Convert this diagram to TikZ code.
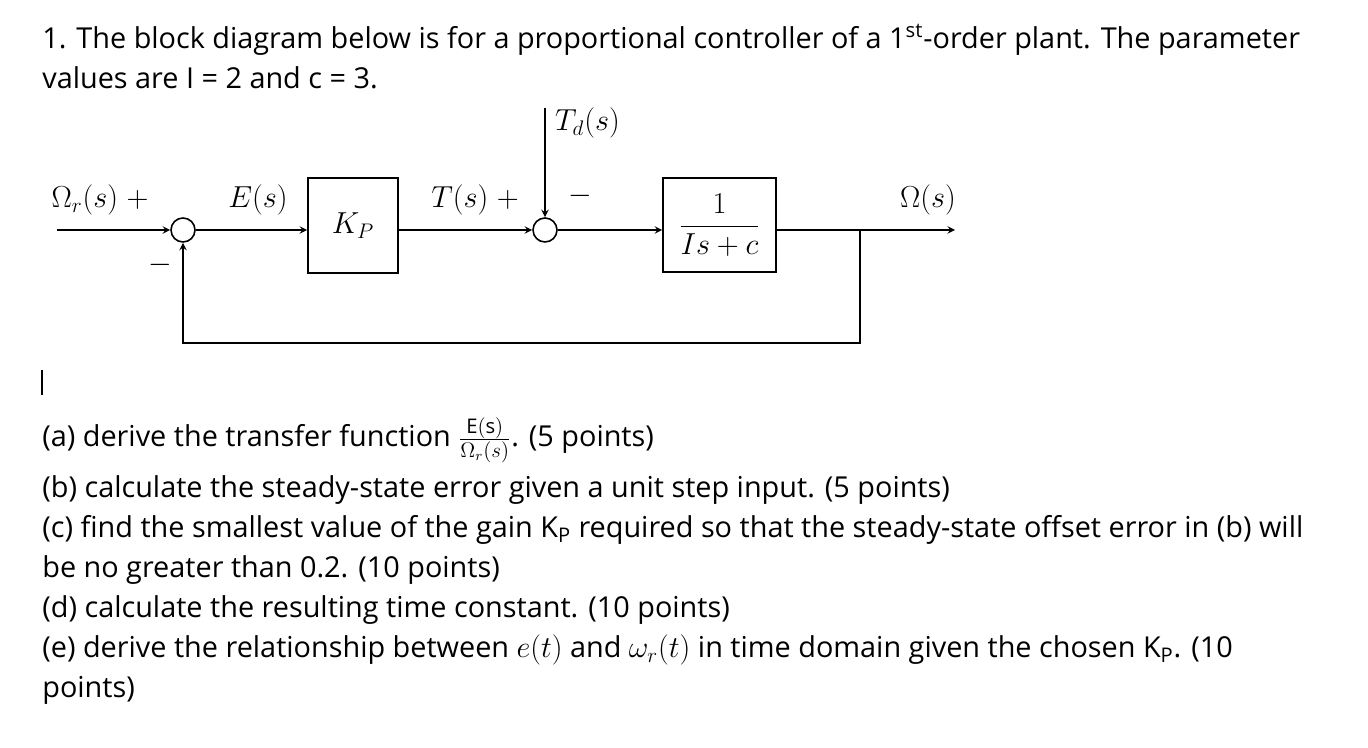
\documentclass[tikz,border=0pt]{standalone}
\usepackage{fontspec}
\setmainfont{Open Sans}
\usepackage{tikz}
\usetikzlibrary{positioning}

\begin{document}
\begin{tikzpicture}[
	txt/.style={anchor=base west, inner sep=0pt, font=\fontsize{16.4}{20}\selectfont},
	lbl/.style={inner sep=1pt, font=\fontsize{16.5}{19}\selectfont},
	block/.style={draw, line width=0.9pt},
	sumnode/.style={draw, circle, line width=0.9pt, minimum size=0.48cm, inner sep=0pt}
]
\useasboundingbox (0,0) rectangle (27.36,14.96);

% Heading text
\node[txt] (head1) at (0.84,13.98) {1. The block diagram below is for a proportional controller of a 1\textsuperscript{st}-order plant. The parameter};
\node[txt] (head2) at (0.84,13.18) {values are I = 2 and c = 3.};

% Sum junctions
\node[sumnode] (sum1) at (3.66,10.36) {};
\node[sumnode] (sum2) at (10.90,10.36) {};

% Controller
\node[block,
	minimum width=1.8cm,
	minimum height=1.9cm
] (controller) at (7.06,10.45) {\fontsize{16.5}{19}\selectfont $K_P$};

% Plant
\node[block,
	minimum width=2.26cm,
	minimum height=1.88cm
] (plant) at (14.39,10.46) {\fontsize{16.5}{19}\selectfont $\displaystyle\frac{1}{Is+c}$};

% Free ends
\coordinate (input) at (1.14,10.36);
\coordinate (output) at (19.10,10.36);
\coordinate (branch) at (17.20,10.36);
\coordinate (torque) at (10.90,12.80);

% Arrows
\draw[line width=0.9pt, -stealth] (input) -- (sum1.west);
\draw[line width=0.9pt, -stealth] (sum1.east) -- (controller.west |- sum1);
\draw[line width=0.9pt, -stealth] (controller.east |- sum2) -- (sum2.west);
\draw[line width=0.9pt, -stealth] (sum2.east) -- (plant.west |- sum2);
\draw[line width=0.9pt, -stealth] (plant.east |- sum2) -- (output);
\draw[line width=0.9pt, -stealth] (torque) -- (sum2.north);
\draw[line width=0.9pt, -stealth] (branch) |- (3.66,8.10) -- (sum1.south);

% Labels
\node[lbl] (lomr) at (2.0,10.96) {$\Omega_r(s)\;+$};
\node[lbl] (le) at (5.16,10.96) {$E(s)$};
\node[lbl] (lt) at (9.5,10.96) {$T(s)\;+$};
\node[lbl] (lm2) at (11.6,11.05) {$-$};
\node[lbl] (lm1) at (3.2,9.66) {$-$};
\node[lbl] (ltd) at (11.75,12.5) {$T_d(s)$};
\node[lbl] (lom) at (18.56,10.96) {$\Omega(s)$};

% Cursor
\draw[line width=0.6pt] (0.84,7.56) -- (0.84,7.06);

% Questions
\node[txt] (qa) at (0.84,6.02) {(a) derive the transfer function $\frac{\mathrm{E(s)}}{\Omega_r(s)}$. (5 points)};
\node[txt] (qb) at (0.84,5.00) {(b) calculate the steady-state error given a unit step input. (5 points)};
\node[txt] (qc) at (0.84,4.20) {(c) find the smallest value of the gain K\textsubscript{P} required so that the steady-state offset error in (b) will};
\node[txt] (qc2) at (0.84,3.40) {be no greater than 0.2. (10 points)};
\node[txt] (qd) at (0.84,2.60) {(d) calculate the resulting time constant. (10 points)};
\node[txt] (qe) at (0.84,1.80) {(e) derive the relationship between $e(t)$ and $\omega_r(t)$ in time domain given the chosen K\textsubscript{P}. (10};
\node[txt] (qe2) at (0.84,1.00) {points)};

\end{tikzpicture}
\end{document}
